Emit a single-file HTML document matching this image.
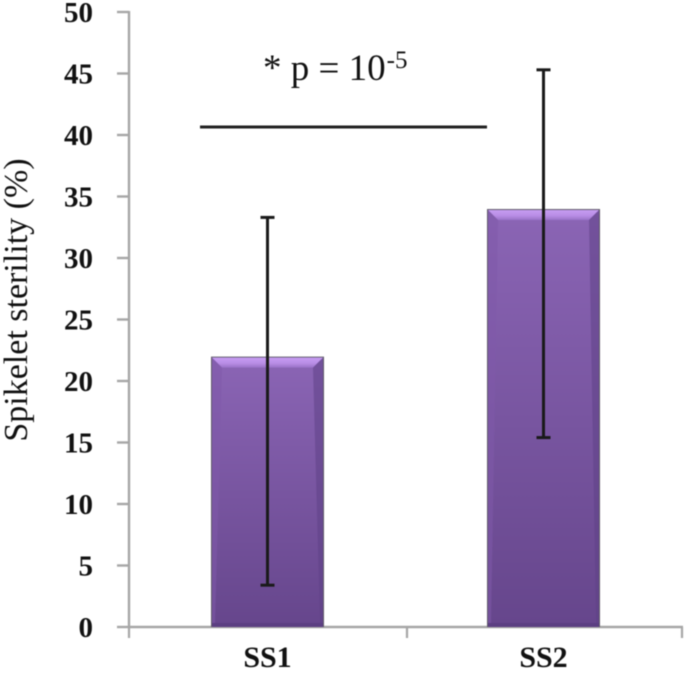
<!DOCTYPE html>
<html>
<head>
<meta charset="utf-8">
<style>
html,body{margin:0;padding:0;background:#fff;width:685px;height:673px;overflow:hidden}
svg{display:block;font-family:"Liberation Serif",serif;filter:blur(0.5px)}
</style>
</head>
<body>
<svg id="chart" width="685" height="673" viewBox="0 0 685 673" xmlns="http://www.w3.org/2000/svg">
<defs>
<linearGradient id="barFill" x1="0" y1="0" x2="0" y2="1">
<stop offset="0" stop-color="#8b65b5"/>
<stop offset="1" stop-color="#66468c"/>
</linearGradient>
<linearGradient id="bevelFill" x1="0" y1="0" x2="0" y2="1">
<stop offset="0" stop-color="#c69cf2"/>
<stop offset="0.55" stop-color="#b98ee6"/>
<stop offset="1" stop-color="#9a72c8"/>
</linearGradient>
</defs>
<g id="axes"></g>
<g id="bars"></g>
<g id="errors"></g>
<g id="labels"></g>
<text transform="translate(27,300) rotate(-90)" text-anchor="middle" font-size="34" fill="#111">Spikelet sterility (%)</text>
<line x1="200" y1="127" x2="487" y2="127" stroke="#222" stroke-width="3"/>
<text x="263" y="80" font-size="37" fill="#111">* p = 10<tspan font-size="25" dx="1" dy="-12">-5</tspan></text>
</svg>
<script>
const categories = ["SS1", "SS2"];
const seriesValues = [21.9, 33.9];
const errorLow = [3.4, 15.4];
const errorHigh = [33.3, 45.3];
const tickLabels = [0, 5, 10, 15, 20, 25, 30, 35, 40, 45, 50];

const NS = "http://www.w3.org/2000/svg";
const plotLeft = 129, plotRight = 683, plotTop = 12, plotBottom = 627;
const yMax = 50;
const tickStep = 278, firstCenter = 267.5, centerStep = 276;
function yScale(v) { return plotBottom - (v / yMax) * (plotBottom - plotTop); }
function xCenter(i) { return firstCenter + centerStep * i; }
function mk(parent, tag, attrs, text) {
  const el = document.createElementNS(NS, tag);
  for (const k in attrs) el.setAttribute(k, attrs[k]);
  if (text !== undefined) el.textContent = text;
  parent.appendChild(el);
  return el;
}
const axes = document.getElementById("axes");
const barsG = document.getElementById("bars");
const errG = document.getElementById("errors");
const labelsG = document.getElementById("labels");
const axisColor = "#a6a6a6";

const yAxis = mk(axes, "line", {x1: plotLeft, y1: plotTop - 1, x2: plotLeft, y2: plotBottom + 1, stroke: axisColor, "stroke-width": 2.4});


const xAxis = mk(axes, "line", {x1: plotLeft, y1: plotBottom, x2: plotRight, y2: plotBottom, stroke: axisColor, "stroke-width": 2.4});



tickLabels.forEach(function (t) {
  const y = yScale(t);
  const tick = mk(axes, "line", {x1: plotLeft - 12, y1: y, x2: plotLeft, y2: y, stroke: axisColor, "stroke-width": 2.4});
  
  
  const label = mk(labelsG, "text", {x: 93, y: y + 10, "text-anchor": "end", "font-size": 29, "font-weight": "bold", fill: "#111"}, String(t));
  
  
});

for (let i = 0; i <= categories.length; i++) {
  const x = Math.min(plotLeft + tickStep * i, plotRight - 1);
  const tick = mk(axes, "line", {x1: x, y1: plotBottom, x2: x, y2: plotBottom + 11, stroke: axisColor, "stroke-width": 2.2});
  
  
}

const barW = 111, bevel = 10;
categories.forEach(function (c, i) {
  const cx = xCenter(i);
  const x0 = cx - barW / 2, x1 = cx + barW / 2;
  const yT = yScale(seriesValues[i]), yB = plotBottom;
  const g = mk(barsG, "g", {});
  
  
  mk(g, "rect", {x: x0 - 1, y: yT - 1, width: barW + 2, height: yB - yT + 1, fill: "#5f5a68"});
  mk(g, "rect", {x: x0, y: yT, width: barW, height: yB - yT, fill: "url(#barFill)"});
  mk(g, "polygon", {points: [x0, yT, x1, yT, x1 - bevel, yT + bevel, x0 + bevel, yT + bevel].join(" "), fill: "url(#bevelFill)"});
  mk(g, "polygon", {points: [x0, yT, x0 + bevel, yT + bevel, x0 + 3, yB - 3, x0, yB].join(" "), fill: "#7f5aa9", opacity: 0.55});
  mk(g, "polygon", {points: [x1, yT, x1 - bevel, yT + bevel, x1 - 3, yB - 3, x1, yB].join(" "), fill: "#5f4186", opacity: 0.55});
  mk(g, "rect", {x: x0, y: yB - 4, width: barW, height: 4, fill: "#5c3f82"});

  const lbl = mk(labelsG, "text", {x: cx, y: 667, "text-anchor": "middle", "font-size": 30, "font-weight": "bold", fill: "#111"}, c);
  
  

  const e = mk(errG, "g", {stroke: "#1a1a1a", "stroke-width": 3});
  
  
  mk(e, "line", {x1: cx, y1: yScale(errorHigh[i]), x2: cx, y2: yScale(errorLow[i])});
  mk(e, "line", {x1: cx - 7, y1: yScale(errorHigh[i]), x2: cx + 7, y2: yScale(errorHigh[i])});
  mk(e, "line", {x1: cx - 7, y1: yScale(errorLow[i]), x2: cx + 7, y2: yScale(errorLow[i])});
});
</script>
</body>
</html>
